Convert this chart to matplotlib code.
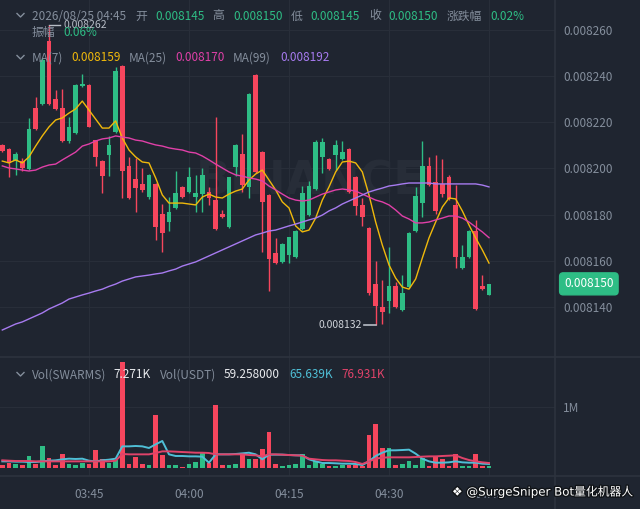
import matplotlib
matplotlib.use("Agg")
import numpy as np
import matplotlib.pyplot as plt
import matplotlib.patheffects as pe
from matplotlib.lines import Line2D


# prices are in millionths (8150.0 -> 0.008150), one candle per minute 03:32 .. 04:45
opens = [8210.2, 8208.4, 8203.2, 8203.2, 8199.8, 8226.2, 8227.9, 8255.2, 8230.1, 8226.2,
         8211.9, 8215.4, 8235.7, 8236.2, 8212.3, 8203.2, 8205.8, 8215.8, 8244.4, 8201.1,
         8195.4, 8193.3, 8187.6, 8193.3, 8180.3, 8176.8, 8182.9, 8192.0, 8189.8, 8187.6,
         8188.9, 8189.8, 8186.3, 8180.3, 8174.6, 8200.6, 8206.3, 8192.0, 8240.5, 8207.1,
         8188.5, 8163.4, 8159.5, 8162.5, 8161.6, 8173.8, 8179.8, 8191.1, 8205.0, 8204.1,
         8205.8, 8204.1, 8208.4, 8196.3, 8184.2, 8174.2, 8150.0, 8140.0, 8142.6, 8149.1,
         8138.7, 8148.6, 8172.9, 8185.0, 8201.1, 8194.1, 8193.3, 8196.3, 8184.2, 8156.9,
         8161.6, 8172.9, 8149.1, 8145.0]
highs = [8210.5, 8208.9, 8207.0, 8204.5, 8221.9, 8231.0, 8248.0, 8262.2, 8234.0, 8234.4,
         8222.3, 8236.6, 8240.9, 8236.6, 8212.5, 8203.5, 8214.0, 8244.0, 8245.0, 8205.0,
         8204.5, 8200.2, 8197.5, 8193.5, 8184.6, 8187.6, 8198.9, 8192.4, 8200.6, 8197.2,
         8200.2, 8192.0, 8222.3, 8182.0, 8196.5, 8210.5, 8214.9, 8232.7, 8240.9, 8207.5,
         8189.0, 8169.9, 8167.5, 8170.5, 8173.2, 8192.4, 8194.5, 8212.3, 8213.2, 8204.5,
         8212.3, 8211.9, 8209.0, 8196.7, 8187.2, 8174.6, 8160.0, 8151.7, 8166.0, 8151.0,
         8153.9, 8172.4, 8192.0, 8211.9, 8205.0, 8205.8, 8204.1, 8197.0, 8192.8, 8166.9,
         8173.2, 8177.7, 8153.9, 8150.0]
lows = [8207.2, 8196.3, 8197.2, 8199.0, 8199.5, 8216.8, 8227.5, 8227.5, 8225.3, 8211.5,
        8211.0, 8215.0, 8235.5, 8217.8, 8201.1, 8189.4, 8196.7, 8215.5, 8187.2, 8186.8,
        8181.1, 8190.0, 8186.8, 8169.0, 8163.8, 8172.9, 8182.5, 8187.2, 8189.4, 8181.1,
        8181.1, 8184.2, 8173.4, 8178.5, 8174.2, 8196.7, 8189.8, 8187.2, 8198.0, 8163.8,
        8146.9, 8158.5, 8159.0, 8159.0, 8161.0, 8173.4, 8179.4, 8190.7, 8198.0, 8199.5,
        8199.4, 8203.7, 8189.4, 8179.8, 8175.0, 8145.2, 8132.0, 8132.6, 8137.4, 8139.6,
        8138.3, 8148.2, 8172.5, 8179.0, 8192.4, 8180.3, 8187.6, 8186.5, 8156.9, 8156.5,
        8161.2, 8138.7, 8147.4, 8145.0]
closes = [8207.6, 8202.4, 8206.3, 8200.2, 8217.1, 8217.1, 8247.0, 8227.9, 8225.8, 8211.9,
          8218.0, 8236.2, 8236.6, 8218.0, 8205.0, 8196.7, 8210.2, 8242.2, 8198.9, 8187.2,
          8191.5, 8190.7, 8197.2, 8174.6, 8172.0, 8181.1, 8189.4, 8187.6, 8196.3, 8189.4,
          8197.2, 8187.2, 8173.8, 8179.0, 8196.3, 8210.2, 8192.8, 8232.3, 8198.5, 8185.5,
          8160.8, 8159.0, 8167.3, 8170.3, 8172.9, 8189.4, 8192.4, 8211.5, 8211.5, 8199.8,
          8210.2, 8207.1, 8189.8, 8183.7, 8179.0, 8146.0, 8140.4, 8137.8, 8149.1, 8140.0,
          8146.0, 8172.0, 8188.1, 8201.1, 8192.8, 8181.6, 8188.9, 8186.8, 8161.6, 8161.6,
          8172.9, 8139.1, 8147.8, 8150.0]

ma7 = [8203.2, 8202.4, 8203.7, 8202.4, 8205.0, 8209.7, 8214.1, 8218.0, 8221.0, 8221.9,
       8224.0, 8225.8, 8229.2, 8225.3, 8221.4, 8217.5, 8217.5, 8220.6, 8213.2, 8208.0,
       8205.0, 8202.8, 8202.4, 8195.9, 8188.5, 8185.0, 8185.0, 8185.0, 8184.6, 8184.2,
       8187.6, 8188.9, 8187.6, 8187.2, 8188.9, 8190.2, 8191.1, 8195.0, 8197.6, 8199.3,
       8195.0, 8190.7, 8185.5, 8182.9, 8175.1, 8172.5, 8173.3, 8178.5, 8186.3, 8192.0,
       8198.5, 8202.8, 8203.2, 8202.4, 8198.5, 8188.5, 8176.8, 8166.8, 8158.2, 8152.5,
       8148.6, 8147.7, 8152.1, 8161.2, 8169.9, 8176.8, 8183.3, 8187.2, 8186.8, 8181.6,
       8175.5, 8169.9, 8164.7, 8159.0]
ma25 = [8201.1, 8200.2, 8199.8, 8199.3, 8198.9, 8199.3, 8200.6, 8201.5, 8201.9, 8203.7,
        8205.4, 8207.1, 8209.7, 8210.6, 8211.9, 8212.8, 8213.2, 8214.1, 8213.6, 8213.2,
        8212.3, 8211.9, 8211.0, 8210.2, 8209.7, 8208.9, 8208.4, 8208.0, 8207.1, 8206.7,
        8205.4, 8203.7, 8201.9, 8200.2, 8198.5, 8197.2, 8196.7, 8195.9, 8195.4, 8194.6,
        8192.4, 8190.7, 8188.9, 8187.2, 8186.3, 8185.9, 8186.3, 8187.6, 8188.9, 8189.8,
        8190.7, 8191.1, 8190.7, 8190.2, 8188.9, 8187.6, 8186.3, 8185.5, 8184.2, 8182.0,
        8179.4, 8178.1, 8176.4, 8176.4, 8176.8, 8177.7, 8178.5, 8179.4, 8179.4, 8178.5,
        8176.8, 8174.6, 8172.5, 8170.0]
ma99 = [8130.0, 8131.3, 8132.6, 8133.5, 8134.8, 8136.1, 8137.4, 8139.1, 8140.4, 8141.7,
        8143.4, 8144.3, 8145.2, 8146.0, 8146.9, 8147.7, 8148.9, 8149.9, 8151.2, 8152.1,
        8153.0, 8153.4, 8153.8, 8154.3, 8154.7, 8155.6, 8156.4, 8157.7, 8158.6, 8159.5,
        8160.8, 8162.1, 8163.4, 8164.7, 8166.0, 8167.3, 8168.6, 8169.9, 8171.2, 8172.0,
        8172.9, 8173.3, 8174.2, 8175.1, 8175.9, 8176.8, 8177.7, 8178.5, 8179.8, 8181.6,
        8182.9, 8184.6, 8185.9, 8187.2, 8188.5, 8189.8, 8190.7, 8191.5, 8192.4, 8192.8,
        8193.3, 8193.7, 8193.7, 8193.7, 8193.7, 8193.3, 8193.3, 8193.3, 8193.3, 8193.3,
        8193.3, 8193.3, 8192.8, 8192.0]

# volume in K
volumes = [44, 87, 71, 44, 190, 71, 355, 164, 55, 224,
           71, 55, 87, 71, 300, 153, 82, 126, 1730, 71,
           180, 71, 55, 863, 219, 55, 55, 22, 60, 98,
           246, 87, 1027, 44, 44, 71, 208, 153, 153, 306,
           590, 60, 33, 44, 60, 235, 55, 109, 71, 27,
           33, 44, 55, 44, 33, 536, 716, 328, 333, 44,
           60, 109, 55, 164, 33, 180, 153, 33, 224, 27,
           27, 235, 33, 33]
vol_ma5 = [109, 109, 104, 104, 98, 98, 109, 120, 126, 142,
           153, 148, 153, 120, 109, 126, 137, 153, 355, 355,
           361, 355, 328, 388, 443, 224, 197, 197, 191, 191,
           186, 87, 224, 224, 224, 230, 240, 251, 224, 142,
           219, 219, 219, 213, 208, 208, 142, 109, 82, 82,
           77, 71, 71, 66, 49, 109, 197, 251, 290, 290,
           295, 301, 235, 153, 109, 87, 87, 93, 109, 93,
           87, 87, 71, 66]
vol_ma10 = [126, 120, 115, 115, 115, 109, 109, 109, 109, 109,
            109, 109, 109, 109, 109, 109, 109, 120, 230, 224,
            224, 224, 224, 246, 273, 273, 268, 262, 257, 251,
            251, 246, 224, 224, 224, 224, 224, 213, 208, 191,
            224, 224, 219, 213, 208, 202, 153, 142, 131, 126,
            126, 120, 115, 98, 66, 109, 153, 169, 175, 175,
            175, 175, 180, 186, 191, 191, 197, 202, 208, 164,
            131, 109, 93, 82]

price_ticks = [8140, 8160, 8180, 8200, 8220, 8240, 8260]
time_ticks = [13, 28, 43, 58, 73]
time_labels = ["03:45", "04:00", "04:15", "04:30", "04:45"]

header_time = "2026/08/25 04:45"
header_ohlc = ["0.008145", "0.008150", "0.008145", "0.008150"]
header_change = "0.02%"
header_amp = "0.06%"
header_ma = ["0.008159", "0.008170", "0.008192"]
header_vol = ["7.271K", "59.258000", "65.639K", "76.931K"]


BG = "#1f2530"
GRID = "#282e39"
SEP = "#2d333e"
TXT = "#848e9c"
WHITE = "#eaecef"
GREEN = "#2ebd85"
RED = "#f6465d"
MA7_C = "#f0b90b"
MA25_C = "#e040a8"
MA99_C = "#a77bf0"
CYAN = "#4fbfd6"
PINK = "#e0436a"

W, H = 640, 509
FS = 8.5

plt.rcParams["font.family"] = ["Noto Sans CJK SC", "DejaVu Sans"]


def fx(x):
    return x / W


def fy(y):
    return 1 - y / H


def label_row(fig, y, parts):
    for x, s, c in parts:
        fig.text(fx(x), fy(y), s, color=c, fontsize=FS, va="center", ha="left")


def chevron(fig, y):
    fig.add_artist(Line2D([fx(17), fx(20.5), fx(24)], [fy(y - 2.5), fy(y + 1), fy(y - 2.5)],
                          color=TXT, lw=1, transform=fig.transFigure))


def main():
    n = len(opens)
    xs = np.arange(n)
    o = np.array(opens)
    c = np.array(closes)
    up = c >= o
    colors = [GREEN if u else RED for u in up]

    fig = plt.figure(figsize=(W / 100, H / 100), dpi=100, facecolor=BG)
    ax = fig.add_axes([0, fy(357), fx(555), 357 / H])
    axv = fig.add_axes([0, fy(476), fx(555), 119 / H], sharex=ax)

    for a in (ax, axv):
        a.set_facecolor(BG)
        for sp in a.spines.values():
            sp.set_visible(False)

    # faint exchange watermark
    ax.text(0.56, 0.49, "BINANCE", transform=ax.transAxes, fontsize=33, fontweight="bold",
            color="#272d38", ha="center", va="center", family="DejaVu Sans", zorder=0)

    # candles
    ax.vlines(xs, lows, highs, colors=colors, lw=1, zorder=2)
    ax.bar(xs, np.maximum(np.abs(c - o), 0.4), bottom=np.minimum(o, c), width=0.68,
           color=colors, zorder=3)

    ax.plot(xs, ma7, color=MA7_C, lw=1, zorder=4)
    ax.plot(xs, ma25, color=MA25_C, lw=1, zorder=4)
    ax.plot(xs, ma99, color=MA99_C, lw=1, zorder=4)

    # max / min markers
    i_hi = int(np.argmax(highs))
    i_lo = int(np.argmin(lows))
    ax.plot([i_hi, i_hi + 1.7], [highs[i_hi]] * 2, color="#b7bdc6", lw=1)
    ax.text(i_hi + 2.2, highs[i_hi], f"{highs[i_hi] / 1e6:.6f}", color="#b7bdc6",
            fontsize=7.5, va="center", ha="left")
    ax.plot([i_lo, i_lo - 1.7], [lows[i_lo]] * 2, color="#b7bdc6", lw=1.2)
    ax.text(i_lo - 2.1, lows[i_lo], f"{lows[i_lo] / 1e6:.6f}", color="#d0d4da",
            fontsize=7.5, va="center", ha="right")

    ax.set_xlim(-0.345, 82.9)
    ax.set_ylim(8118.3, 8273.0)
    ax.set_yticks(price_ticks)
    ax.set_yticklabels([f"{v / 1e6:.6f}" for v in price_ticks])
    ax.yaxis.tick_right()
    ax.tick_params(axis="y", length=0, pad=5.8, labelsize=FS, labelcolor=TXT)
    ax.tick_params(axis="x", length=0, labelbottom=False)
    ax.grid(True, color=GRID, lw=0.8, zorder=0)
    ax.set_axisbelow(True)

    # last price tag
    ax.text(1.061, closes[-1], f"{closes[-1] / 1e6:.6f}", transform=ax.get_yaxis_transform(),
            color="white", fontsize=FS, ha="center", va="center", clip_on=False,
            bbox=dict(boxstyle="round,pad=0.38,rounding_size=0.3", fc=GREEN, ec=GREEN))

    # volume panel
    axv.bar(xs, volumes, width=0.68, color=colors, zorder=3)
    axv.plot(xs, vol_ma5, color=CYAN, lw=1.4, zorder=4)
    axv.plot(xs, vol_ma10, color=PINK, lw=1.4, zorder=4)
    axv.set_ylim(-131, 1820)
    axv.set_yticks([1000])
    axv.set_yticklabels(["1M"])
    axv.yaxis.tick_right()
    axv.tick_params(axis="y", length=0, pad=5.8, labelsize=FS, labelcolor=TXT)
    axv.set_xticks(time_ticks)
    axv.set_xticklabels(time_labels)
    axv.tick_params(axis="x", length=0, pad=9, labelsize=FS, labelcolor=TXT)
    axv.grid(True, color=GRID, lw=0.8, zorder=0)
    axv.set_axisbelow(True)

    # panel separators
    for yy in (357, 476):
        fig.add_artist(Line2D([0, 1], [fy(yy), fy(yy)], color=SEP, lw=1.2,
                              transform=fig.transFigure))
    fig.add_artist(Line2D([fx(555), fx(555)], [0, 1], color=SEP, lw=1.2,
                          transform=fig.transFigure))

    # headers
    chevron(fig, 16)
    label_row(fig, 16, [
        (32, header_time, TXT), (135, "开", TXT), (155, header_ohlc[0], GREEN),
        (212, "高", TXT), (233, header_ohlc[1], GREEN), (291, "低", TXT),
        (310, header_ohlc[2], GREEN), (369, "收", TXT), (388, header_ohlc[3], GREEN),
        (447, "涨跌幅", TXT), (490, header_change, GREEN),
    ])
    label_row(fig, 32, [(32, "振幅", TXT), (63, header_amp, GREEN)])
    chevron(fig, 58)
    label_row(fig, 58, [
        (32, "MA(7)", TXT), (71, header_ma[0], MA7_C), (129, "MA(25)", TXT),
        (175, header_ma[1], MA25_C), (233, "MA(99)", TXT), (280, header_ma[2], MA99_C),
    ])
    chevron(fig, 375)
    label_row(fig, 375, [
        (32, "Vol(SWARMS)", TXT), (113, header_vol[0], WHITE), (160, "Vol(USDT)", TXT),
        (224, header_vol[1], WHITE), (289, header_vol[2], CYAN), (341, header_vol[3], PINK),
    ])

    # bottom-right bot watermark
    fig.text(fx(452), fy(492), "❖ @SurgeSniper Bot量化机器人", color="white", fontsize=8.5,
             ha="left", va="center", family=["DejaVu Sans", "Noto Sans CJK SC"],
             path_effects=[pe.withStroke(linewidth=2, foreground="#111418")])

    fig.savefig("out.png", dpi=100, facecolor=BG)
    plt.close(fig)


if __name__ == "__main__":
    main()
